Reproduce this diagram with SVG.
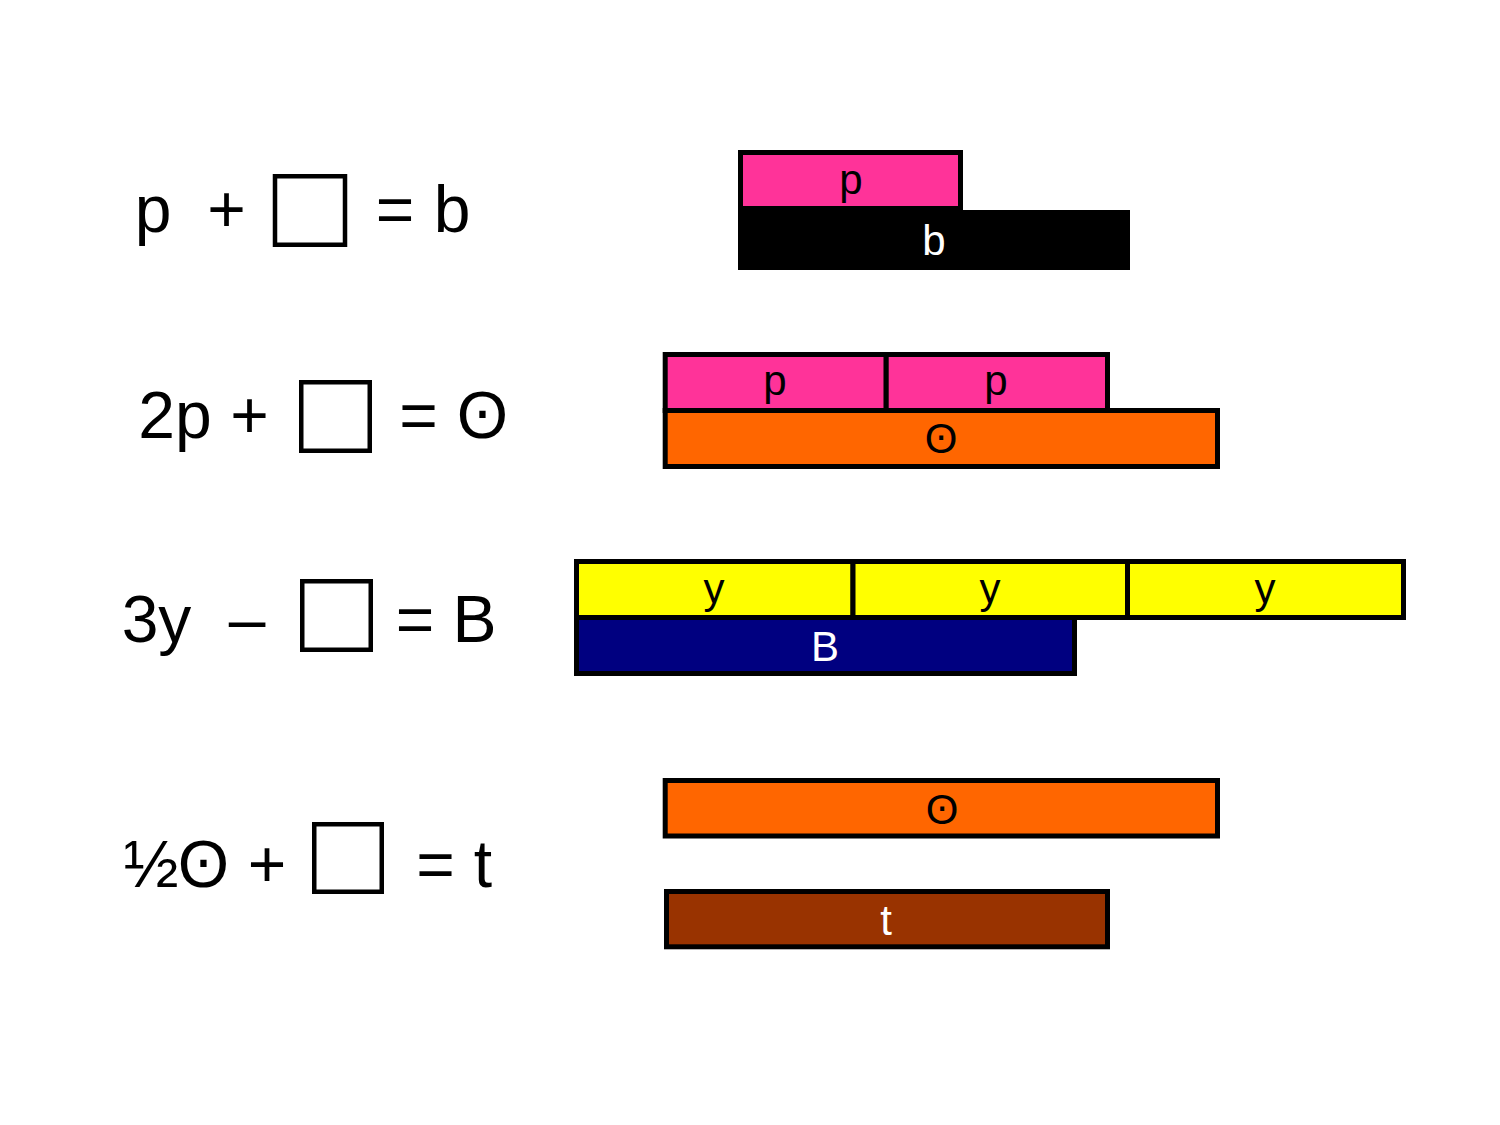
<svg xmlns="http://www.w3.org/2000/svg" width="1500" height="1125" viewBox="0 0 1500 1125">
<style>
.eq{font-family:"Liberation Sans",Arial,sans-serif;font-size:66px;fill:#000;text-anchor:middle}
.lbl{font-family:"Liberation Sans",Arial,"DejaVu Sans",sans-serif;font-size:42px;text-anchor:middle}
.blank{fill:#fff;stroke:#000;stroke-width:4.5}
.bar{stroke:#000;stroke-width:5}
.pink{fill:#FF3399}.orange{fill:#FF6600}.yellow{fill:#FFFF00}.navy{fill:#000080}.brown{fill:#993300}.blk{fill:#000}
.dk{fill:#000}.wt{fill:#fff}
</style>
<rect width="1500" height="1125" fill="#fff"/>
<g id="eq1">
<text class="eq" x="153" y="232">p</text>
<text class="eq" x="226.5" y="232">+</text>
<rect class="blank" x="275" y="176.25" width="70" height="68.5"/>
<text class="eq" x="395" y="232">=</text>
<text class="eq" x="452" y="232">b</text>
</g>
<g id="eq2">
<text class="eq" x="175" y="438">2p</text>
<text class="eq" x="249.5" y="438">+</text>
<rect class="blank" x="301.25" y="382.25" width="68.5" height="68.5"/>
<text class="eq" x="418.5" y="438">=</text>
<text class="eq" x="482.5" y="438">ʘ</text>
</g>
<g id="eq3">
<text class="eq" x="156.5" y="642">3y</text>
<text class="eq" x="247" y="642">–</text>
<rect class="blank" x="302.25" y="581.25" width="68.5" height="68.5"/>
<text class="eq" x="415" y="642">=</text>
<text class="eq" x="474.5" y="642">B</text>
</g>
<g id="eq4">
<text class="eq" x="151" y="887">½</text>
<text class="eq" x="203.5" y="887">ʘ</text>
<text class="eq" x="267" y="887">+</text>
<rect class="blank" x="314.25" y="824.25" width="67.5" height="67.5"/>
<text class="eq" x="435.5" y="887">=</text>
<text class="eq" x="483" y="887">t</text>
</g>
<g id="bars1">
<rect class="blk" x="738" y="210" width="392" height="60"/>
<rect class="bar pink" x="740.5" y="152.5" width="220" height="56"/>
<text class="lbl dk" x="851" y="194">p</text>
<text class="lbl wt" x="934" y="255">b</text>
</g>
<g id="bars2">
<rect class="bar pink" x="665.2" y="354.5" width="221" height="56"/>
<rect class="bar pink" x="886.2" y="354.5" width="221.3" height="56"/>
<text class="lbl dk" x="775" y="395">p</text>
<text class="lbl dk" x="996" y="395">p</text>
<rect class="bar orange" x="665.2" y="410.5" width="552.3" height="56"/>
<text class="lbl dk" x="941" y="453">ʘ</text>
</g>
<g id="bars3">
<rect class="bar yellow" x="576.5" y="561.5" width="276.5" height="56"/>
<rect class="bar yellow" x="853" y="561.5" width="274.5" height="56"/>
<rect class="bar yellow" x="1127.5" y="561.5" width="276" height="56"/>
<text class="lbl dk" x="714" y="603">y</text>
<text class="lbl dk" x="990" y="603">y</text>
<text class="lbl dk" x="1265" y="603">y</text>
<rect class="bar navy" x="576.5" y="617.5" width="498" height="56"/>
<text class="lbl wt" x="825" y="661">B</text>
</g>
<g id="bars4">
<rect class="bar orange" x="665.2" y="780.5" width="552.3" height="55.5"/>
<text class="lbl dk" x="942" y="824">ʘ</text>
<rect class="bar brown" x="666.5" y="891.5" width="441" height="55.3"/>
<text class="lbl wt" x="886" y="935">t</text>
</g>
<g id="connectors"/>
</svg>
